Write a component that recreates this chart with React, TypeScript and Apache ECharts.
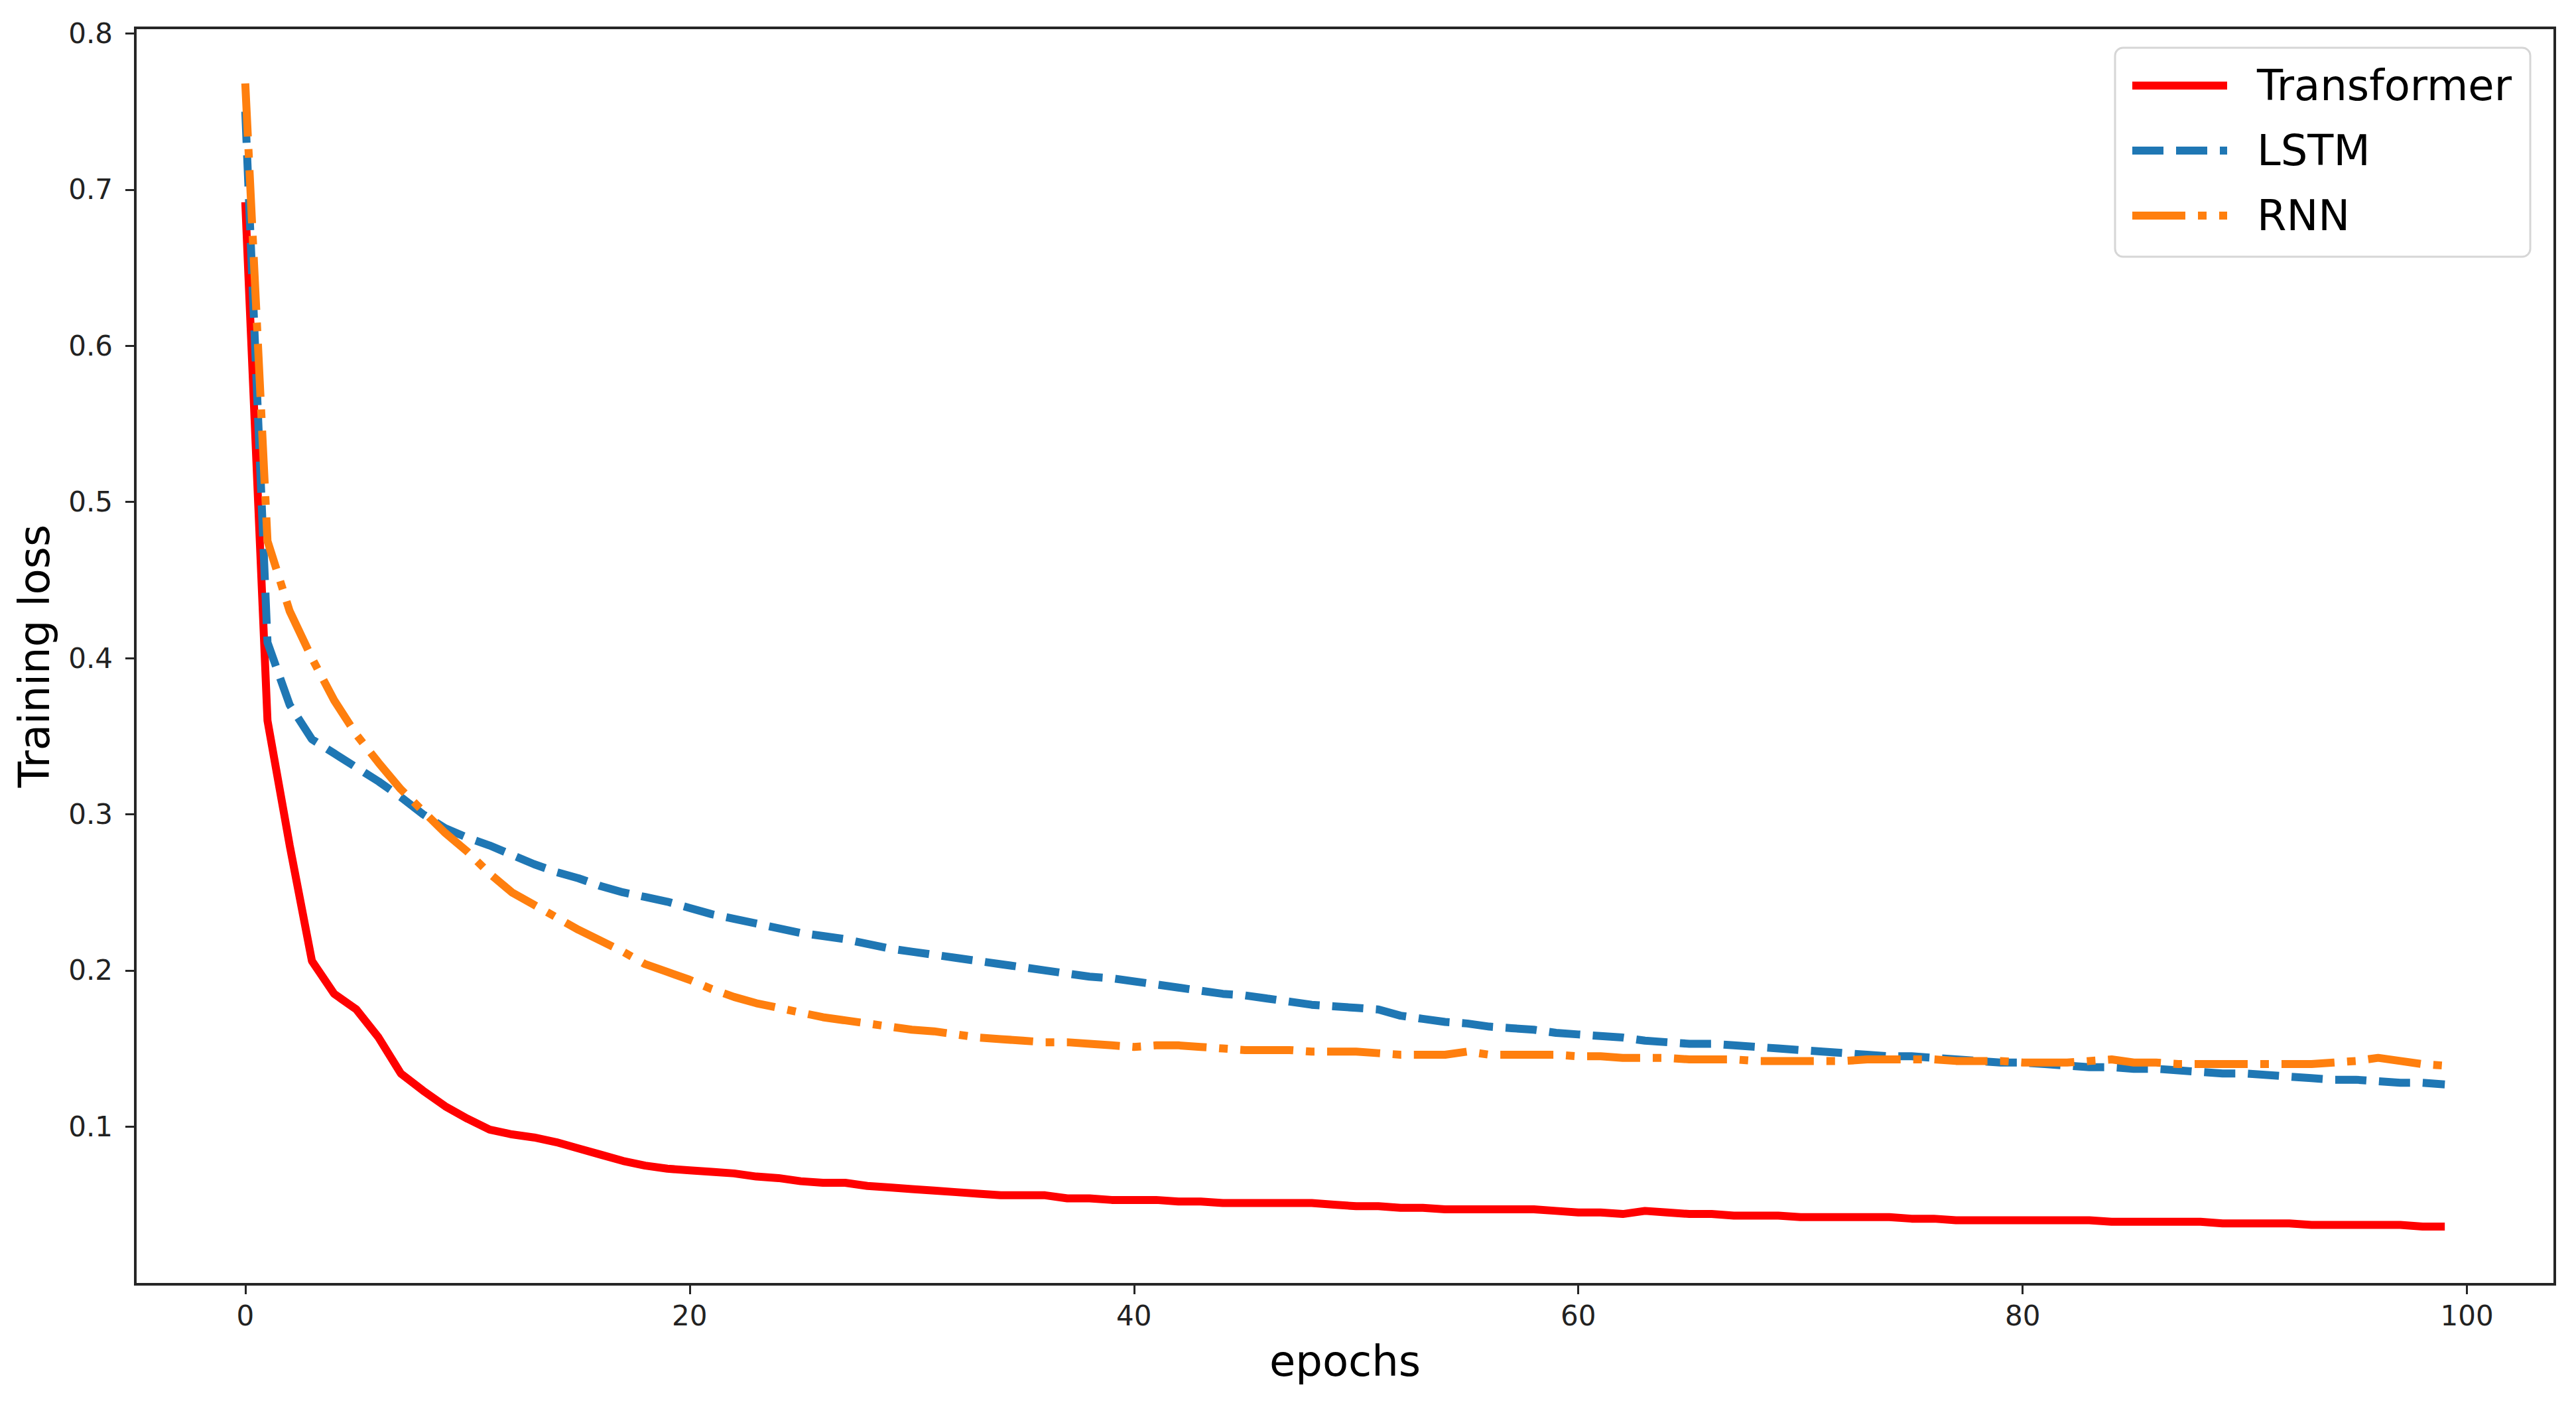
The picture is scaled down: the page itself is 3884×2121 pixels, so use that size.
import React, { useEffect, useRef } from "react";
import * as echarts from "echarts";

const epochs: number[] = Array.from({ length: 100 }, (_, i) => i);

const transformerLoss: number[] = [
  0.692, 0.360, 0.280, 0.206, 0.185, 0.175, 0.157, 0.134, 0.123, 0.113,
  0.105, 0.098, 0.095, 0.093, 0.090, 0.086, 0.082, 0.078, 0.075, 0.073,
  0.072, 0.071, 0.070, 0.068, 0.067, 0.065, 0.064, 0.064, 0.062, 0.061,
  0.060, 0.059, 0.058, 0.057, 0.056, 0.056, 0.056, 0.054, 0.054, 0.053,
  0.053, 0.053, 0.052, 0.052, 0.051, 0.051, 0.051, 0.051, 0.051, 0.050,
  0.049, 0.049, 0.048, 0.048, 0.047, 0.047, 0.047, 0.047, 0.047, 0.046,
  0.045, 0.045, 0.044, 0.046, 0.045, 0.044, 0.044, 0.043, 0.043, 0.043,
  0.042, 0.042, 0.042, 0.042, 0.042, 0.041, 0.041, 0.040, 0.040, 0.040,
  0.040, 0.040, 0.040, 0.040, 0.039, 0.039, 0.039, 0.039, 0.039, 0.038,
  0.038, 0.038, 0.038, 0.037, 0.037, 0.037, 0.037, 0.037, 0.036, 0.036,
];

const lstmLoss: number[] = [
  0.750, 0.410, 0.370, 0.348, 0.339, 0.330, 0.321, 0.311, 0.300, 0.291,
  0.285, 0.280, 0.274, 0.268, 0.263, 0.259, 0.254, 0.250, 0.247, 0.244,
  0.240, 0.236, 0.233, 0.230, 0.227, 0.224, 0.222, 0.220, 0.217, 0.214,
  0.212, 0.210, 0.208, 0.206, 0.204, 0.202, 0.200, 0.198, 0.196, 0.195,
  0.193, 0.191, 0.189, 0.187, 0.185, 0.184, 0.182, 0.180, 0.178, 0.177,
  0.176, 0.175, 0.171, 0.169, 0.167, 0.166, 0.164, 0.163, 0.162, 0.160,
  0.159, 0.158, 0.157, 0.155, 0.154, 0.153, 0.153, 0.152, 0.151, 0.150,
  0.149, 0.148, 0.147, 0.146, 0.145, 0.145, 0.144, 0.143, 0.142, 0.141,
  0.141, 0.140, 0.139, 0.138, 0.138, 0.137, 0.137, 0.136, 0.135, 0.134,
  0.134, 0.133, 0.132, 0.131, 0.130, 0.130, 0.129, 0.128, 0.128, 0.127,
];

const rnnLoss: number[] = [
  0.768, 0.475, 0.430, 0.400, 0.373, 0.351, 0.333, 0.316, 0.302, 0.288,
  0.276, 0.262, 0.250, 0.242, 0.234, 0.226, 0.219, 0.212, 0.204, 0.199,
  0.194, 0.188, 0.183, 0.179, 0.176, 0.173, 0.170, 0.168, 0.166, 0.164,
  0.162, 0.161, 0.159, 0.157, 0.156, 0.155, 0.154, 0.154, 0.153, 0.152,
  0.151, 0.152, 0.152, 0.151, 0.150, 0.149, 0.149, 0.149, 0.148, 0.148,
  0.148, 0.147, 0.146, 0.146, 0.146, 0.148, 0.146, 0.146, 0.146, 0.146,
  0.145, 0.145, 0.144, 0.144, 0.144, 0.143, 0.143, 0.143, 0.142, 0.142,
  0.142, 0.142, 0.142, 0.143, 0.143, 0.143, 0.143, 0.142, 0.142, 0.142,
  0.141, 0.141, 0.141, 0.142, 0.143, 0.141, 0.141, 0.140, 0.140, 0.140,
  0.140, 0.140, 0.140, 0.140, 0.141, 0.142, 0.144, 0.142, 0.140, 0.139,
];

const seriesNames: string[] = ["Transformer", "LSTM", "RNN"];
const xTicks: number[] = [0, 20, 40, 60, 80, 100];
const yTicks: number[] = [0.1, 0.2, 0.3, 0.4, 0.5, 0.6, 0.7, 0.8];

const FONT = "DejaVu Sans";

export default function App() {
  const ref = useRef<HTMLDivElement>(null);

  useEffect(() => {
    document.body.style.margin = "0";
    if (!ref.current) return;
    const chart = echarts.init(ref.current, undefined, { renderer: "svg" });

    const pairs = (ys: number[]) => epochs.map((e, i) => [e, ys[i]]);

    chart.setOption({
      animation: false,
      backgroundColor: "#ffffff",
      grid: {
        left: 204,
        top: 42,
        width: 3648,
        height: 1894,
        show: true,
        borderColor: "#262626",
        borderWidth: 4,
        backgroundColor: "transparent",
      },
      xAxis: {
        type: "value",
        min: -4.95,
        max: 103.95,
        name: "epochs",
        nameLocation: "middle",
        nameGap: 84,
        nameTextStyle: { fontFamily: FONT, fontSize: 64, color: "#000" },
        axisLine: { show: true, onZero: false, lineStyle: { color: "#262626", width: 4 } },
        axisTick: {
          show: true,
          length: 15,
          customValues: xTicks,
          lineStyle: { color: "#262626", width: 3 },
        },
        axisLabel: {
          customValues: xTicks,
          margin: 26,
          fontFamily: FONT,
          fontSize: 42,
          color: "#222",
        },
        splitLine: { show: false },
      },
      yAxis: {
        type: "value",
        min: -0.001,
        max: 0.8036,
        name: "Training loss",
        nameLocation: "middle",
        nameGap: 120,
        nameTextStyle: { fontFamily: FONT, fontSize: 64, color: "#000" },
        axisLine: { show: true, onZero: false, lineStyle: { color: "#262626", width: 4 } },
        axisTick: {
          show: true,
          length: 15,
          customValues: yTicks,
          lineStyle: { color: "#262626", width: 3 },
        },
        axisLabel: {
          customValues: yTicks,
          margin: 34,
          fontFamily: FONT,
          fontSize: 42,
          color: "#222",
          formatter: (v: number) => v.toFixed(1),
        },
        splitLine: { show: false },
      },
      legend: {
        show: true,
        orient: "vertical",
        left: 3189,
        top: 72,
        padding: [25, 28, 30, 20],
        itemWidth: 143,
        itemHeight: 14,
        itemGap: 34,
        selectedMode: false,
        backgroundColor: "rgba(255,255,255,0.8)",
        borderColor: "#d6d6d6",
        borderWidth: 3,
        borderRadius: 12,
        lineStyle: { width: 12, type: "inherit", color: "inherit" },
        itemStyle: { opacity: 0, borderWidth: 0 },
        textStyle: {
          fontFamily: FONT,
          fontSize: 64,
          lineHeight: 64,
          color: "#000",
          padding: [0, 0, 0, 40],
        },
        data: seriesNames,
      },
      series: [
        {
          name: seriesNames[0],
          type: "line",
          data: pairs(transformerLoss),
          symbol: "none",
          showSymbol: false,
          smooth: false,
          lineStyle: { color: "#ff0000", width: 12, type: "solid" },
          itemStyle: { color: "#ff0000" },
          z: 2,
        },
        {
          name: seriesNames[1],
          type: "line",
          data: pairs(lstmLoss),
          symbol: "none",
          showSymbol: false,
          smooth: false,
          lineStyle: { color: "#1f77b4", width: 12, type: [47, 19] },
          itemStyle: { color: "#1f77b4" },
          z: 3,
        },
        {
          name: seriesNames[2],
          type: "line",
          data: pairs(rnnLoss),
          symbol: "none",
          showSymbol: false,
          smooth: false,
          lineStyle: { color: "#ff7f0e", width: 12, type: [80, 19, 13, 19] },
          itemStyle: { color: "#ff7f0e" },
          z: 4,
        },
      ],
    });

    return () => {
      chart.dispose();
    };
  }, []);

  return <div ref={ref} style={{ width: 3884, height: 2121 }} />;
}
